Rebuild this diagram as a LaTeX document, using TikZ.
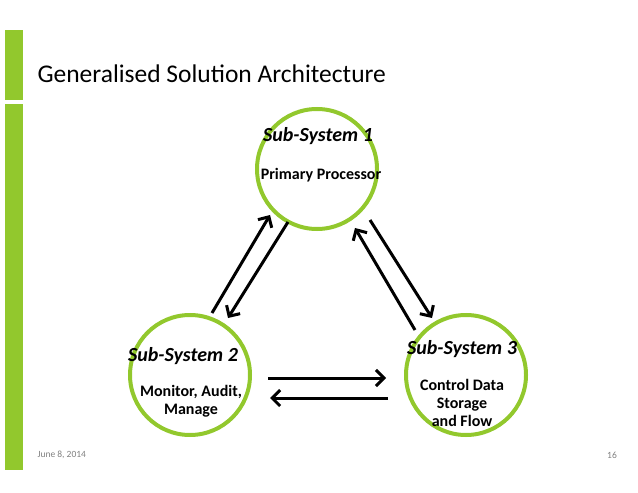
\documentclass[tikz,border=0pt]{standalone}
\usepackage{fontspec}
\setmainfont{Carlito}
\usetikzlibrary{arrows.meta}
\definecolor{lg}{RGB}{146,200,45}
\begin{document}
\begin{tikzpicture}[x=1bp,y=-1bp,
  sys/.style={circle,draw=lg,line width=4bp,minimum size=120bp,inner sep=0pt},
  hd/.style={font=\bfseries\itshape\fontsize{20bp}{24bp}\selectfont},
  bd/.style={font=\bfseries\fontsize{16bp}{18bp}\selectfont,align=center},
  arr/.style={line width=3bp,-{Straight Barb[length=8bp,width=16bp,line width=3bp]}}]
\useasboundingbox (0,0) rectangle (638,493);
\fill[lg] (5,30) rectangle (23,100);
\fill[lg] (5,104) rectangle (23,470);
\node[anchor=west,font=\fontsize{25.5bp}{30bp}\selectfont] (title) at (34,74) {Generalised Solution Architecture};
\node[sys] (s1) at (317,169) {};
\node[sys] (s2) at (190,375) {};
\node[sys] (s3) at (466,375) {};
\node[hd] (t1) at (318,136) {Sub-System 1};
\node[bd] (b1) at (321,175) {Primary Processor};
\node[hd] (t2) at (183,356) {Sub-System 2};
\node[bd] (b2) at (191,401) {Monitor, Audit,\\Manage};
\node[hd] (t3) at (462,349) {Sub-System 3};
\node[bd] (b3) at (462,403) {Control Data\\Storage\\and Flow};
\coordinate (a1s) at (212,313); \coordinate (a1e) at (270,215);
\coordinate (a2s) at (288,222); \coordinate (a2e) at (228,318);
\coordinate (a3s) at (370,220); \coordinate (a3e) at (432,318);
\coordinate (a4s) at (415,330); \coordinate (a4e) at (355,228);
\coordinate (a5s) at (268,378); \coordinate (a5e) at (386,378);
\coordinate (a6s) at (388,398); \coordinate (a6e) at (270,398);
\foreach \a in {1,...,6} \draw[arr] (a\a s) -- (a\a e);
\node[font=\fontsize{9.5bp}{11bp}\selectfont,text=gray,anchor=west] (date) at (34,455) {June 8, 2014};
\node[font=\fontsize{9.5bp}{11bp}\selectfont,text=gray] (pg) at (612,455) {16};
\end{tikzpicture}
\end{document}
